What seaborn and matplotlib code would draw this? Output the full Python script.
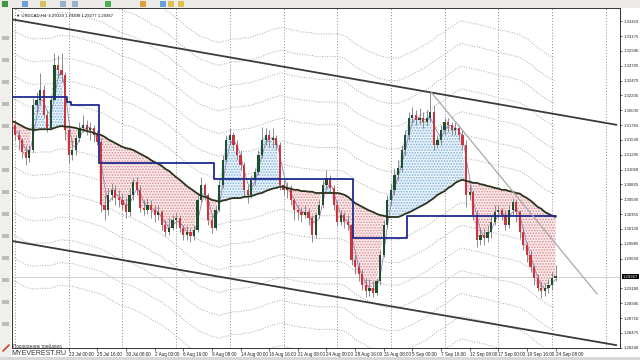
import numpy as np
import pandas as pd
import matplotlib
matplotlib.use("Agg")
import matplotlib.pyplot as plt
import seaborn as sns
from matplotlib.patches import Rectangle

sns.set_theme(style="white")
plt.rcParams["font.family"] = ["Liberation Sans", "DejaVu Sans"]
plt.rcParams["hatch.linewidth"] = 0.8

# ---------------- data (USDCAD H4, 8h candles) ----------------
title_text = "USDCAD,H4  1.29339 1.29400 1.29277 1.29367"
first_open = 1.3188
close = [1.3177,1.3161,1.3153,1.3134,1.3125,1.3137,1.3208,1.3216,1.3232,1.3192,
         1.3172,1.3216,1.3271,1.3264,1.3256,1.3169,1.3129,1.3137,1.3156,1.3172,
         1.3177,1.3169,1.3172,1.3161,1.3150,1.3050,1.3042,1.3066,1.3074,1.3061,
         1.3058,1.3050,1.3039,1.3066,1.3087,1.3074,1.3045,1.3042,1.3050,1.3042,
         1.3034,1.3039,1.3019,1.3008,1.3014,1.3027,1.3030,1.3014,1.3003,1.3008,
         1.3001,1.3011,1.3058,1.3082,1.3066,1.3027,1.3014,1.3042,1.3082,1.3121,
         1.3153,1.3161,1.3145,1.3129,1.3113,1.3074,1.3066,1.3090,1.3102,1.3129,
         1.3153,1.3161,1.3153,1.3156,1.3145,1.3082,1.3074,1.3077,1.3058,1.3042,
         1.3039,1.3034,1.3039,1.3030,1.3003,1.3034,1.3050,1.3082,1.3093,1.3077,
         1.3050,1.3023,1.3034,1.3023,1.3019,1.2963,1.2951,1.2940,1.2924,1.2913,
         1.2919,1.2911,1.2929,1.2971,1.3019,1.3058,1.3074,1.3098,1.3109,1.3137,
         1.3161,1.3188,1.3192,1.3185,1.3188,1.3181,1.3188,1.3197,1.3145,1.3153,
         1.3169,1.3181,1.3177,1.3169,1.3172,1.3161,1.3145,1.3066,1.3071,1.3034,
         1.2995,1.3003,1.2998,1.3008,1.3023,1.3039,1.3042,1.3034,1.3019,1.3042,
         1.3055,1.3039,1.3008,1.2987,1.2971,1.2951,1.2935,1.2919,1.2913,1.2919,
         1.2924,1.2935,1.2937]
high = [1.3192,1.3185,1.3169,1.3156,1.3145,1.3145,1.3219,1.3229,1.3259,1.3240,
        1.3200,1.3224,1.3290,1.3287,1.3290,1.3260,1.3172,1.3153,1.3161,1.3181,
        1.3192,1.3185,1.3181,1.3177,1.3169,1.3156,1.3066,1.3077,1.3085,1.3082,
        1.3074,1.3069,1.3061,1.3077,1.3093,1.3094,1.3082,1.3058,1.3061,1.3058,
        1.3050,1.3050,1.3042,1.3027,1.3030,1.3034,1.3039,1.3034,1.3019,1.3017,
        1.3014,1.3019,1.3066,1.3094,1.3085,1.3069,1.3034,1.3050,1.3090,1.3129,
        1.3161,1.3172,1.3166,1.3153,1.3137,1.3118,1.3082,1.3098,1.3109,1.3137,
        1.3174,1.3172,1.3169,1.3172,1.3161,1.3150,1.3090,1.3087,1.3082,1.3061,
        1.3050,1.3047,1.3050,1.3045,1.3034,1.3039,1.3058,1.3090,1.3106,1.3098,
        1.3082,1.3058,1.3042,1.3039,1.3034,1.3023,1.2971,1.2960,1.2948,1.2935,
        1.2932,1.2929,1.2935,1.2979,1.3027,1.3066,1.3085,1.3109,1.3121,1.3145,
        1.3169,1.3197,1.3205,1.3200,1.3204,1.3197,1.3200,1.3227,1.3208,1.3161,
        1.3177,1.3188,1.3188,1.3181,1.3181,1.3177,1.3169,1.3153,1.3082,1.3074,
        1.3042,1.3014,1.3014,1.3019,1.3034,1.3050,1.3050,1.3045,1.3042,1.3050,
        1.3061,1.3058,1.3042,1.3014,1.2992,1.2979,1.2955,1.2940,1.2929,1.2927,
        1.2932,1.2944,1.2955]
low = [1.3172,1.3153,1.3137,1.3125,1.3113,1.3118,1.3134,1.3197,1.3208,1.3188,
       1.3166,1.3169,1.3216,1.3251,1.3245,1.3153,1.3117,1.3121,1.3129,1.3150,
       1.3166,1.3161,1.3153,1.3150,1.3145,1.3039,1.3027,1.3034,1.3058,1.3050,
       1.3047,1.3042,1.3030,1.3033,1.3058,1.3066,1.3039,1.3034,1.3036,1.3030,
       1.3023,1.3027,1.3011,1.3001,1.3003,1.3011,1.3014,1.3008,1.2995,1.2995,
       1.2992,1.2995,1.3008,1.3055,1.3058,1.3019,1.3006,1.3011,1.3039,1.3077,
       1.3118,1.3145,1.3137,1.3121,1.3106,1.3063,1.3053,1.3061,1.3082,1.3098,
       1.3125,1.3145,1.3142,1.3140,1.3137,1.3074,1.3066,1.3061,1.3050,1.3027,
       1.3027,1.3023,1.3030,1.3019,1.2992,1.2998,1.3030,1.3045,1.3077,1.3071,
       1.3042,1.3016,1.3019,1.3014,1.3011,1.2955,1.2940,1.2929,1.2916,1.2905,
       1.2906,1.2905,1.2908,1.2924,1.2967,1.3014,1.3050,1.3066,1.3090,1.3102,
       1.3129,1.3153,1.3181,1.3177,1.3178,1.3172,1.3177,1.3181,1.3137,1.3140,
       1.3145,1.3161,1.3166,1.3161,1.3161,1.3153,1.3137,1.3047,1.3058,1.3027,
       1.2984,1.2987,1.2987,1.2992,1.2998,1.3019,1.3030,1.3027,1.3011,1.3014,
       1.3034,1.3023,1.2998,1.2979,1.2960,1.2944,1.2924,1.2913,1.2903,1.2906,
       1.2911,1.2916,1.2929]
ma_slow = [1.3183,1.3181,1.3178,1.3175,1.3172,1.3170,1.3169,1.3169,1.3170,1.3170,
           1.3170,1.3170,1.3172,1.3174,1.3175,1.3174,1.3174,1.3173,1.3172,1.3170,
           1.3169,1.3167,1.3166,1.3164,1.3162,1.3161,1.3158,1.3154,1.3151,1.3148,
           1.3145,1.3142,1.3140,1.3139,1.3137,1.3134,1.3131,1.3128,1.3125,1.3121,
           1.3118,1.3115,1.3112,1.3107,1.3104,1.3099,1.3094,1.3090,1.3085,1.3080,
           1.3076,1.3072,1.3068,1.3064,1.3063,1.3061,1.3058,1.3057,1.3055,1.3057,
           1.3058,1.3060,1.3061,1.3061,1.3061,1.3063,1.3063,1.3064,1.3066,1.3068,
           1.3069,1.3072,1.3074,1.3076,1.3077,1.3079,1.3079,1.3077,1.3076,1.3074,
           1.3074,1.3072,1.3072,1.3071,1.3071,1.3069,1.3069,1.3069,1.3069,1.3069,
           1.3069,1.3069,1.3068,1.3066,1.3063,1.3058,1.3053,1.3050,1.3047,1.3044,
           1.3041,1.3039,1.3036,1.3034,1.3033,1.3031,1.3031,1.3031,1.3031,1.3033,
           1.3036,1.3038,1.3041,1.3044,1.3047,1.3050,1.3053,1.3057,1.3061,1.3066,
           1.3069,1.3072,1.3077,1.3080,1.3085,1.3088,1.3090,1.3088,1.3087,1.3085,
           1.3085,1.3083,1.3082,1.3080,1.3079,1.3077,1.3076,1.3074,1.3074,1.3072,
           1.3071,1.3069,1.3068,1.3064,1.3061,1.3057,1.3052,1.3047,1.3044,1.3039,
           1.3036,1.3033,1.3031]
blue_levels = [1.3221, 1.3213, 1.3208, 1.3117, 1.3091, 1.2998, 1.3033]
blue_from = [0, 16, 17, 25, 57, 96, 111]          # candle index where each level starts
date_labels = ["23 Jul 00:00", "25 Jul 16:00", "30 Jul 08:00", "2 Aug 00:00",
               "6 Aug 16:00", "9 Aug 08:00", "14 Aug 00:00", "16 Aug 16:00",
               "21 Aug 08:00", "24 Aug 00:00", "28 Aug 16:00", "31 Aug 08:00",
               "5 Sep 00:00", "7 Sep 16:00", "12 Sep 08:00", "17 Sep 00:00",
               "19 Sep 16:00", "24 Sep 08:00"]
first_label_candle, label_every = 16, 8
first_monday_candle, week_candles = 1, 15
price_top_tick, price_tick_step, n_price_ticks = 1.33410, 0.00235, 23
last_price = 1.29367
channel_upper = ([0.17, 169.0], [1.3344, 1.3177])
channel_lower = ([0.17, 169.0], [1.2993, 1.2828])
trend_down = ([117.2, 163.6], [1.3229, 1.2909])
envelope_step = 0.0036
envelope_levels = [-7, -6, -5, -4, -3, -2, -1, 1, 2, 3, 4, 5, 6, 7]

# ---------------- frame ----------------
W, H = 640, 360
fig = plt.figure(figsize=(6.4, 3.6), dpi=100)
fig.patch.set_facecolor("white")
ax = fig.add_axes([12 / W, 1 - 348 / H, 608 / W, 340 / H])
ax.set_facecolor("white")

n = len(close)
idx = np.arange(n)
df = pd.DataFrame({"i": idx, "close": close, "high": high, "low": low, "ma": ma_slow})
df["open"] = [first_open] + close[:-1]
df["fast"] = df["close"].rolling(3, min_periods=1).mean()
up = df["close"] >= df["open"]

# weekly dotted grid
for wk in range(first_monday_candle, 171, week_candles):
    ax.axvline(wk, color="#8c8c8c", lw=0.7, ls=(0, (1, 2)), zorder=0)

# envelopes
for k in envelope_levels:
    ax.plot(idx, df["ma"] + k * envelope_step, color="#a9a9a9", lw=0.7,
            ls=(0, (1, 1.6)), zorder=1)

# fills between price and slow MA
c = df["close"].values
m = df["ma"].values
ax.fill_between(idx, c, m, where=c >= m, interpolate=True, facecolor="#eaf3fb",
                edgecolor="#7fb3da", hatch="......", linewidth=0, zorder=2)
ax.fill_between(idx, c, m, where=c < m, interpolate=True, facecolor="#fbeaea",
                edgecolor="#d98f9a", hatch="......", linewidth=0, zorder=2)

# fast line (thin purple)
sns.lineplot(data=df, x="i", y="fast", ax=ax, color="#9b7fb8", lw=0.6, zorder=3)

# candles
body_lo = np.minimum(df["open"], df["close"])
body_hi = np.maximum(df["open"], df["close"])
col = np.where(up, "#1f4f2c", "#c9363b")
wick_lo = np.minimum(df["low"], body_lo)
wick_hi = np.maximum(df["high"], body_hi)
ax.vlines(idx, wick_lo, wick_hi, colors="#7a7a7a", lw=0.6, zorder=4)
ax.bar(idx, np.maximum(body_hi - body_lo, 0.00006), bottom=body_lo, width=0.62,
       color=col, linewidth=0, zorder=5)

# slow MA
sns.lineplot(data=df, x="i", y="ma", ax=ax, color="#2c331c", lw=1.3, zorder=6)

# blue step line
bx, by = [], []
for k, lvl in enumerate(blue_levels):
    s = blue_from[k] - 0.5 if k > 0 else 0
    e = blue_from[k + 1] - 0.5 if k + 1 < len(blue_levels) else n - 1
    bx += [s, e]
    by += [lvl, lvl]
ax.plot(bx, by, color="#1f2b8f", lw=1.3, zorder=7)

# trend lines
ax.plot(*channel_upper, color="#3a3a3a", lw=1.3, zorder=7)
ax.plot(*channel_lower, color="#3a3a3a", lw=1.3, zorder=7)
ax.plot(*trend_down, color="#a8a8a8", lw=0.9, zorder=7)
ax.axhline(last_price, color="#c8c8c8", lw=0.6, zorder=1)

# axes limits
ax.set_xlim(0.15, 170.0)
ax.set_ylim(1.28235, 1.33620)

# price axis right
ticks = [price_top_tick - k * price_tick_step for k in range(n_price_ticks)]
ticks = [t for t in ticks if abs(t - last_price) > 0.0011]
ax.yaxis.tick_right()
ax.set_yticks(ticks)
ax.set_yticklabels([f"{t:.5f}" for t in ticks])
ax.tick_params(axis="y", labelsize=3.1, length=1.5, width=0.5, pad=0.8, colors="#222222",
               right=True, left=False)
ax.set_ylabel("")
ax.set_xlabel("")
ax.text(1.004, last_price, "1.29367", transform=ax.get_yaxis_transform(), ha="left",
        va="center", fontsize=3.1, color="white",
        bbox=dict(facecolor="black", edgecolor="none", pad=0.6))

# date axis
xt = [first_label_candle + label_every * k for k in range(len(date_labels))]
ax.set_xticks(xt)
ax.set_xticklabels(date_labels)
ax.tick_params(axis="x", labelsize=3.3, length=2, width=0.5, pad=1.0, colors="#222222",
               bottom=True)
for lab in ax.get_xticklabels():
    lab.set_horizontalalignment("left")

for s in ax.spines.values():
    s.set_color("#333333")
    s.set_linewidth(0.7)

# title
ax.text(0.007, 0.985, "\u25BC " + title_text, transform=ax.transAxes, fontsize=3.1,
        ha="left", va="top", color="#111111")

# terminal chrome: top toolbar, left toolbar, bottom strip
fig.add_artist(Rectangle((0, 1 - 8 / H), 1, 8 / H, transform=fig.transFigure,
                         facecolor="#eceae6", edgecolor="none", zorder=10))
fig.add_artist(Rectangle((0, 0), 11 / W, 1 - 8 / H, transform=fig.transFigure,
                         facecolor="#f0efec", edgecolor="none", zorder=10))
fig.add_artist(Rectangle((0, 0), 1, 3 / H, transform=fig.transFigure,
                         facecolor="#d8d8d8", edgecolor="none", zorder=10))
for x0, colr in [(2, "#3c9a3c"), (22, "#6aa0d8"), (40, "#d8c25a"), (60, "#9ab0c8"),
                 (72, "#9ab0c8"), (105, "#4caf50"), (140, "#e0a040"), (160, "#6aa0d8"),
                 (168, "#e0c050"), (178, "#e0c050")]:
    fig.add_artist(Rectangle((x0 / W, 1 - 7 / H), 6 / W, 6 / H, transform=fig.transFigure,
                             facecolor=colr, edgecolor="none", zorder=11))
for y0 in range(40, 330, 22):
    fig.add_artist(Rectangle((2 / W, 1 - y0 / H), 7 / W, 4 / H, transform=fig.transFigure,
                             facecolor="#9a9a9a", edgecolor="none", zorder=11, alpha=0.6))

# watermark
fig.text(13 / W, 1 - 346 / H, "Подорожник трейдера", fontsize=3.3, color="#333333",
         ha="left", va="center", zorder=12)
fig.text(11 / W, 1 - 353.5 / H, "MYEVEREST.RU", fontsize=5.0, color="#333333",
         ha="left", va="center", zorder=12)
fig.add_artist(plt.Line2D([3 / W, 9 / W], [1 - 351 / H, 1 - 345 / H],
                          transform=fig.transFigure, color="#d04020", lw=1.2, zorder=12))

fig.savefig("out.png", dpi=100)
